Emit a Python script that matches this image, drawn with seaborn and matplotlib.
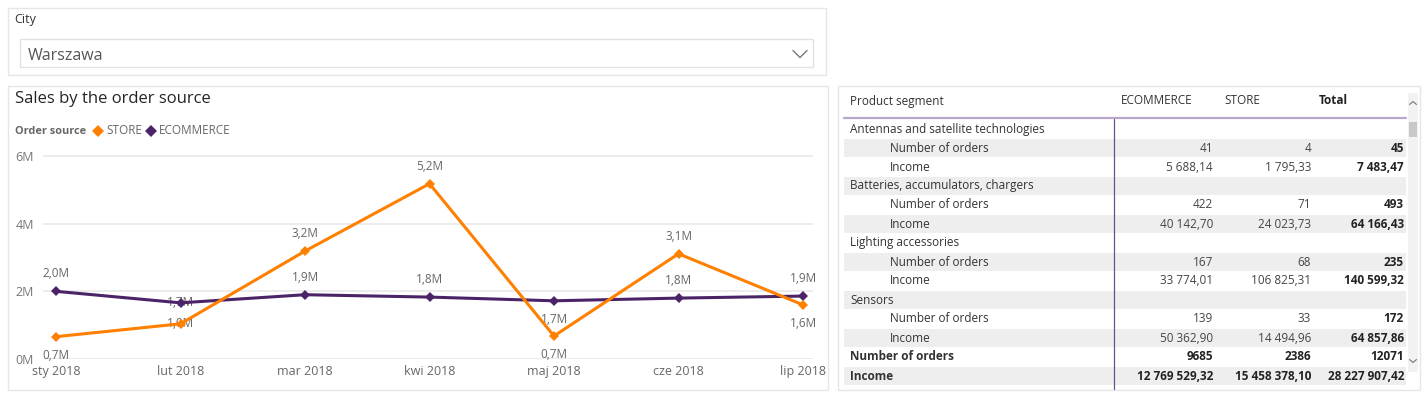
import pandas as pd
import numpy as np
import matplotlib.pyplot as plt
import seaborn as sns
from matplotlib.patches import Rectangle
from matplotlib.lines import Line2D

# chart data (millions)
months      = ['sty 2018', 'lut 2018', 'mar 2018', 'kwi 2018', 'maj 2018', 'cze 2018', 'lip 2018']
store_m     = [0.66, 1.04, 3.19, 5.18, 0.68, 3.11, 1.60]
ecommerce_m = [2.00, 1.66, 1.90, 1.83, 1.72, 1.80, 1.86]
y_ticks     = [0, 2, 4, 6]

# table data
segments      = ['Antennas and satellite technologies', 'Batteries, accumulators, chargers',
                 'Lighting accessories', 'Sensors']
ecom_orders   = [41, 422, 167, 139]
store_orders  = [4, 71, 68, 33]
total_orders  = [45, 493, 235, 172]
ecom_income   = [5688.14, 40142.70, 33774.01, 50362.90]
store_income  = [1795.33, 24023.73, 106825.31, 14494.96]
total_income  = [7483.47, 64166.43, 140599.32, 64857.86]
grand_orders  = [9685, 2386, 12071]
grand_income  = [12769529.32, 15458378.10, 28227907.42]
table_columns = ['Product segment', 'ECOMMERCE', 'STORE', 'Total']

ORANGE = '#FF8000'
PURPLE = '#4B2468'

sns.set_theme(style='white')
plt.rcParams['font.family'] = ['Open Sans', 'DejaVu Sans']

W, H = 1425, 397
fig = plt.figure(figsize=(W / 100, H / 100), dpi=100)


def fx(px):
    return px / W


def fy(py):
    return 1 - py / H


def box(x0, y0, x1, y1, ec='#E6E6E6', fc='white', lw=1.0, z=0):
    fig.add_artist(Rectangle((fx(x0), fy(y1)), (x1 - x0) / W, (y1 - y0) / H,
                             transform=fig.transFigure, ec=ec, fc=fc, lw=lw, zorder=z))


def hline(x0, x1, y, color, lw=1.0):
    fig.add_artist(Line2D([fx(x0), fx(x1)], [fy(y), fy(y)], transform=fig.transFigure,
                          color=color, lw=lw))


def chevron(xc, yc, up, color='#777777', w=5, h=3.5, lw=0.9):
    d = -h if up else h
    fig.add_artist(Line2D([fx(xc - w), fx(xc), fx(xc + w)],
                          [fy(yc - d / 2), fy(yc + d / 2), fy(yc - d / 2)],
                          transform=fig.transFigure, color=color, lw=lw))


# slicer
box(8, 8, 826, 75)
fig.text(fx(14), fy(19), 'City', fontsize=9, color='#333333', va='center')
box(20, 39, 813, 67, ec='#E2E2E2')
fig.text(fx(28), fy(56), 'Warszawa', fontsize=11.5, color='#555555', va='center')
chevron(800, 54, up=False, w=7, h=7, lw=1.0)

# line chart panel
box(8, 86, 828, 390)
fig.text(fx(15), fy(99), 'Sales by the order source', fontsize=12, color='#252423', va='center')
fig.text(fx(15), fy(131), 'Order source', fontsize=7.9, color='#666666', va='center', weight='bold')
fig.add_artist(Line2D([fx(98)], [fy(131)], marker='D', ms=6, color=ORANGE, mew=0,
                      transform=fig.transFigure))
fig.text(fx(106), fy(131), 'STORE', fontsize=8.5, color='#666666', va='center')
fig.add_artist(Line2D([fx(151)], [fy(131)], marker='D', ms=6, color=PURPLE, mew=0,
                      transform=fig.transFigure))
fig.text(fx(159), fy(131), 'ECOMMERCE', fontsize=8.5, color='#666666', va='center')

ax = fig.add_axes([fx(43), fy(359), (813 - 43) / W, (359 - 150) / H])
df = pd.DataFrame({
    'pos': list(range(len(months))) * 2,
    'sales': ecommerce_m + store_m,
    'source': ['ECOMMERCE'] * len(months) + ['STORE'] * len(months),
})
sns.lineplot(data=df, x='pos', y='sales', hue='source', hue_order=['ECOMMERCE', 'STORE'],
             palette={'ECOMMERCE': PURPLE, 'STORE': ORANGE}, marker='D', markersize=5,
             markeredgewidth=0, linewidth=2.2, legend=False, ax=ax)

px_per_unit = (803 - 56) / 6
ax.set_xlim(-(56 - 43) / px_per_unit, 6 + (813 - 803) / px_per_unit)
ax.set_ylim(0, 6 * (359 - 150) / (359 - 156))
ax.set_xticks(range(len(months)))
ax.set_xticklabels(months)
ax.set_yticks(y_ticks)
ax.set_yticklabels([f'{t}M' for t in y_ticks])
ax.set_xlabel('')
ax.set_ylabel('')
ax.yaxis.grid(True, color='#EAEAEA', lw=1.3)
ax.set_axisbelow(True)
for s in ax.spines.values():
    s.set_visible(False)
ax.tick_params(axis='y', length=0, pad=6.5, labelsize=9, labelcolor='#777777')
ax.tick_params(axis='x', length=0, pad=4, labelsize=9, labelcolor='#666666')
ax.patch.set_alpha(0)

store_place = ['below', 'center', 'above', 'above', 'below', 'above', 'below']
ecom_place  = ['above', 'center', 'above', 'above', 'below', 'above', 'above']
offsets = {'above': 12.5, 'below': -13.5, 'center': 0.5}
for vals, places in [(store_m, store_place), (ecommerce_m, ecom_place)]:
    for i, (v, p) in enumerate(zip(vals, places)):
        ax.annotate(f'{v:.1f}M'.replace('.', ','), (i, v), xytext=(0, offsets[p]),
                    textcoords='offset points', ha='center', va='center',
                    fontsize=8.5, color='#666666', zorder=1.5, annotation_clip=False)

# table panel
box(838, 86, 1420, 390)
TX_LABEL, TX_SUB = 850, 890
col_right = [1213, 1311, 1404]
fs = 8.5
fig.text(fx(TX_LABEL), fy(101), table_columns[0], fontsize=fs, color='#333333', va='center')
fig.text(fx(1121), fy(101), table_columns[1], fontsize=fs, color='#333333', va='center')
fig.text(fx(1224), fy(101), table_columns[2], fontsize=fs, color='#333333', va='center')
fig.text(fx(1319), fy(101), table_columns[3], fontsize=fs, color='#222222', va='center',
         weight='bold')


def fmt_money(v):
    return f'{v:,.2f}'.replace(',', ' ').replace('.', ',')


rows = []
for i, seg in enumerate(segments):
    rows.append((seg, None, 'group'))
    rows.append(('Number of orders', [str(ecom_orders[i]), str(store_orders[i]), str(total_orders[i])], 'sub'))
    rows.append(('Income', [fmt_money(ecom_income[i]), fmt_money(store_income[i]),
                            fmt_money(total_income[i])], 'sub'))
rows.append(('Number of orders', [str(v) for v in grand_orders], 'total'))
rows.append(('Income', [fmt_money(v) for v in grand_income], 'total'))

row_h = 19.0
y0 = 129
for r, (label, vals, kind) in enumerate(rows):
    yc = y0 + r * row_h
    if r % 2 == 1:
        box(844, yc - row_h / 2 + 0.5, 1406, yc + row_h / 2 - 0.5, ec='none', fc='#EEEEEE', z=1)
    x = TX_SUB if kind == 'sub' else TX_LABEL
    fig.text(fx(x), fy(yc), label, fontsize=fs, color='#333333', va='center',
             weight='bold' if kind == 'total' else 'normal', zorder=3)
    if vals:
        for j, v in enumerate(vals):
            bold = kind == 'total' or j == 2
            fig.text(fx(col_right[j]), fy(yc), v, fontsize=fs, ha='right', va='center',
                     color='#222222' if bold else '#444444',
                     weight='bold' if bold else 'normal', zorder=3)

hline(844, 1406, 118, '#B9A4CC', lw=1.6)
fig.add_artist(Line2D([fx(1114), fx(1114)], [fy(119), fy(389)], transform=fig.transFigure,
                      color='#6E4F8A', lw=0.9, zorder=4))

# scrollbar
box(1408, 93, 1418, 372, ec='none', fc='#F2F2F2', z=1)
box(1409, 122, 1417, 137, ec='none', fc='#C8C8C8', z=2)
chevron(1413, 103, up=True, w=3.5, h=3, lw=0.8)
chevron(1413, 361, up=False, w=3.5, h=3, lw=0.8)

plt.savefig('out.png', dpi=100)
plt.close()
